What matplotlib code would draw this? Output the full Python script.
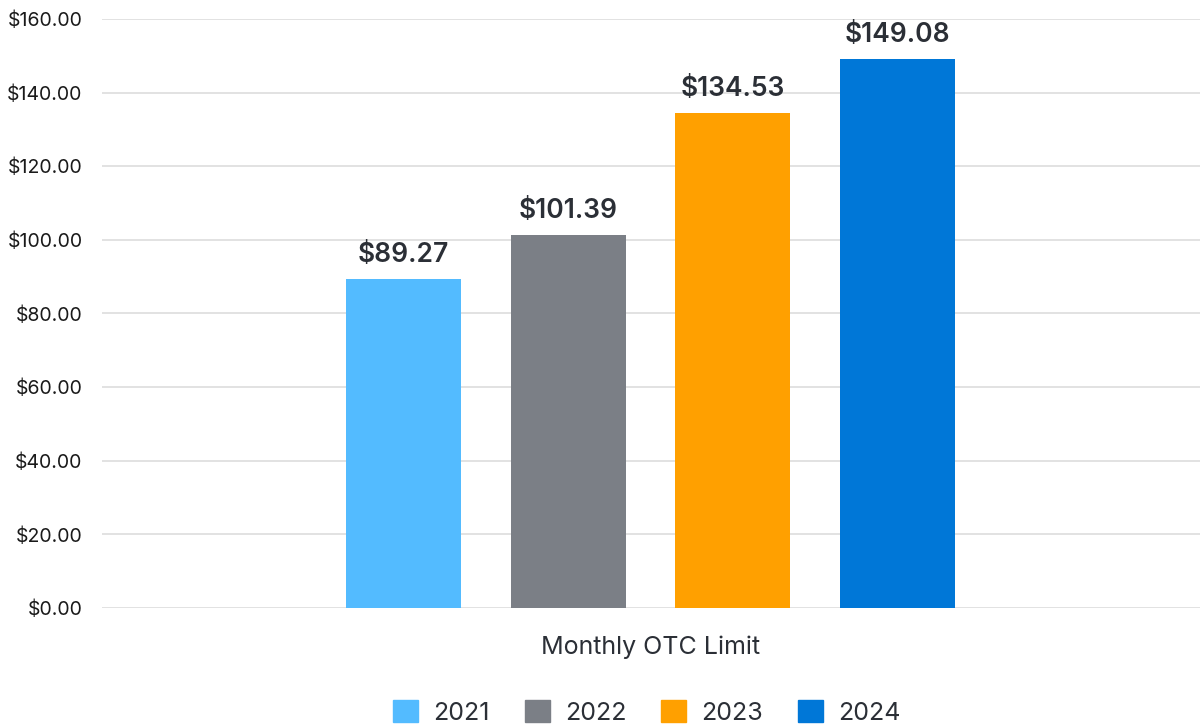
import matplotlib.pyplot as plt
from matplotlib.patches import Patch
from matplotlib.ticker import FuncFormatter

plt.rcParams['font.family'] = ['Inter', 'DejaVu Sans']

# data
years = ['2021', '2022', '2023', '2024']
limits = [89.27, 101.39, 134.53, 149.08]
colors = ['#53BBFF', '#7B7F86', '#FFA000', '#0077D7']
category = 'Monthly OTC Limit'

text_col = '#2B2F36'

fig = plt.figure(figsize=(12, 7.27), dpi=100)
ax = fig.add_axes([0.085, 0.1637, 0.915, 0.8102])

pos = range(len(years))
bars = ax.bar(pos, limits, width=0.7, color=colors, zorder=3)

for b, v in zip(bars, limits):
    ax.text(b.get_x() + b.get_width() / 2, v + 3, '${:.2f}'.format(v),
            ha='center', va='bottom', fontsize=19, fontweight='semibold', color=text_col)

ax.set_ylim(0, 160)
ax.set_yticks(range(0, 161, 20))
ax.yaxis.set_major_formatter(FuncFormatter(lambda y, p: '${:.2f}'.format(y)))
ax.set_xlim(-1.834, 4.841)
ax.set_xticks([1.5])
ax.set_xticklabels([category])
ax.tick_params(axis='y', length=0, pad=14, labelsize=14, labelcolor='#1a1a1a')
ax.tick_params(axis='x', length=0, pad=20, labelsize=18, labelcolor=text_col)
ax.grid(axis='y', color='#DDDDDD', linewidth=1.2, zorder=0)
for s in ax.spines.values():
    s.set_visible(False)

handles = [Patch(color=c, label=y) for c, y in zip(colors, years)]
fig.legend(handles=handles, loc='center', bbox_to_anchor=(0.539, 0.02), ncol=4,
           frameon=False, fontsize=18, handlelength=1.0, handleheight=1.0,
           columnspacing=1.4, handletextpad=0.6, labelcolor=text_col)

fig.savefig('out.png', dpi=100)
